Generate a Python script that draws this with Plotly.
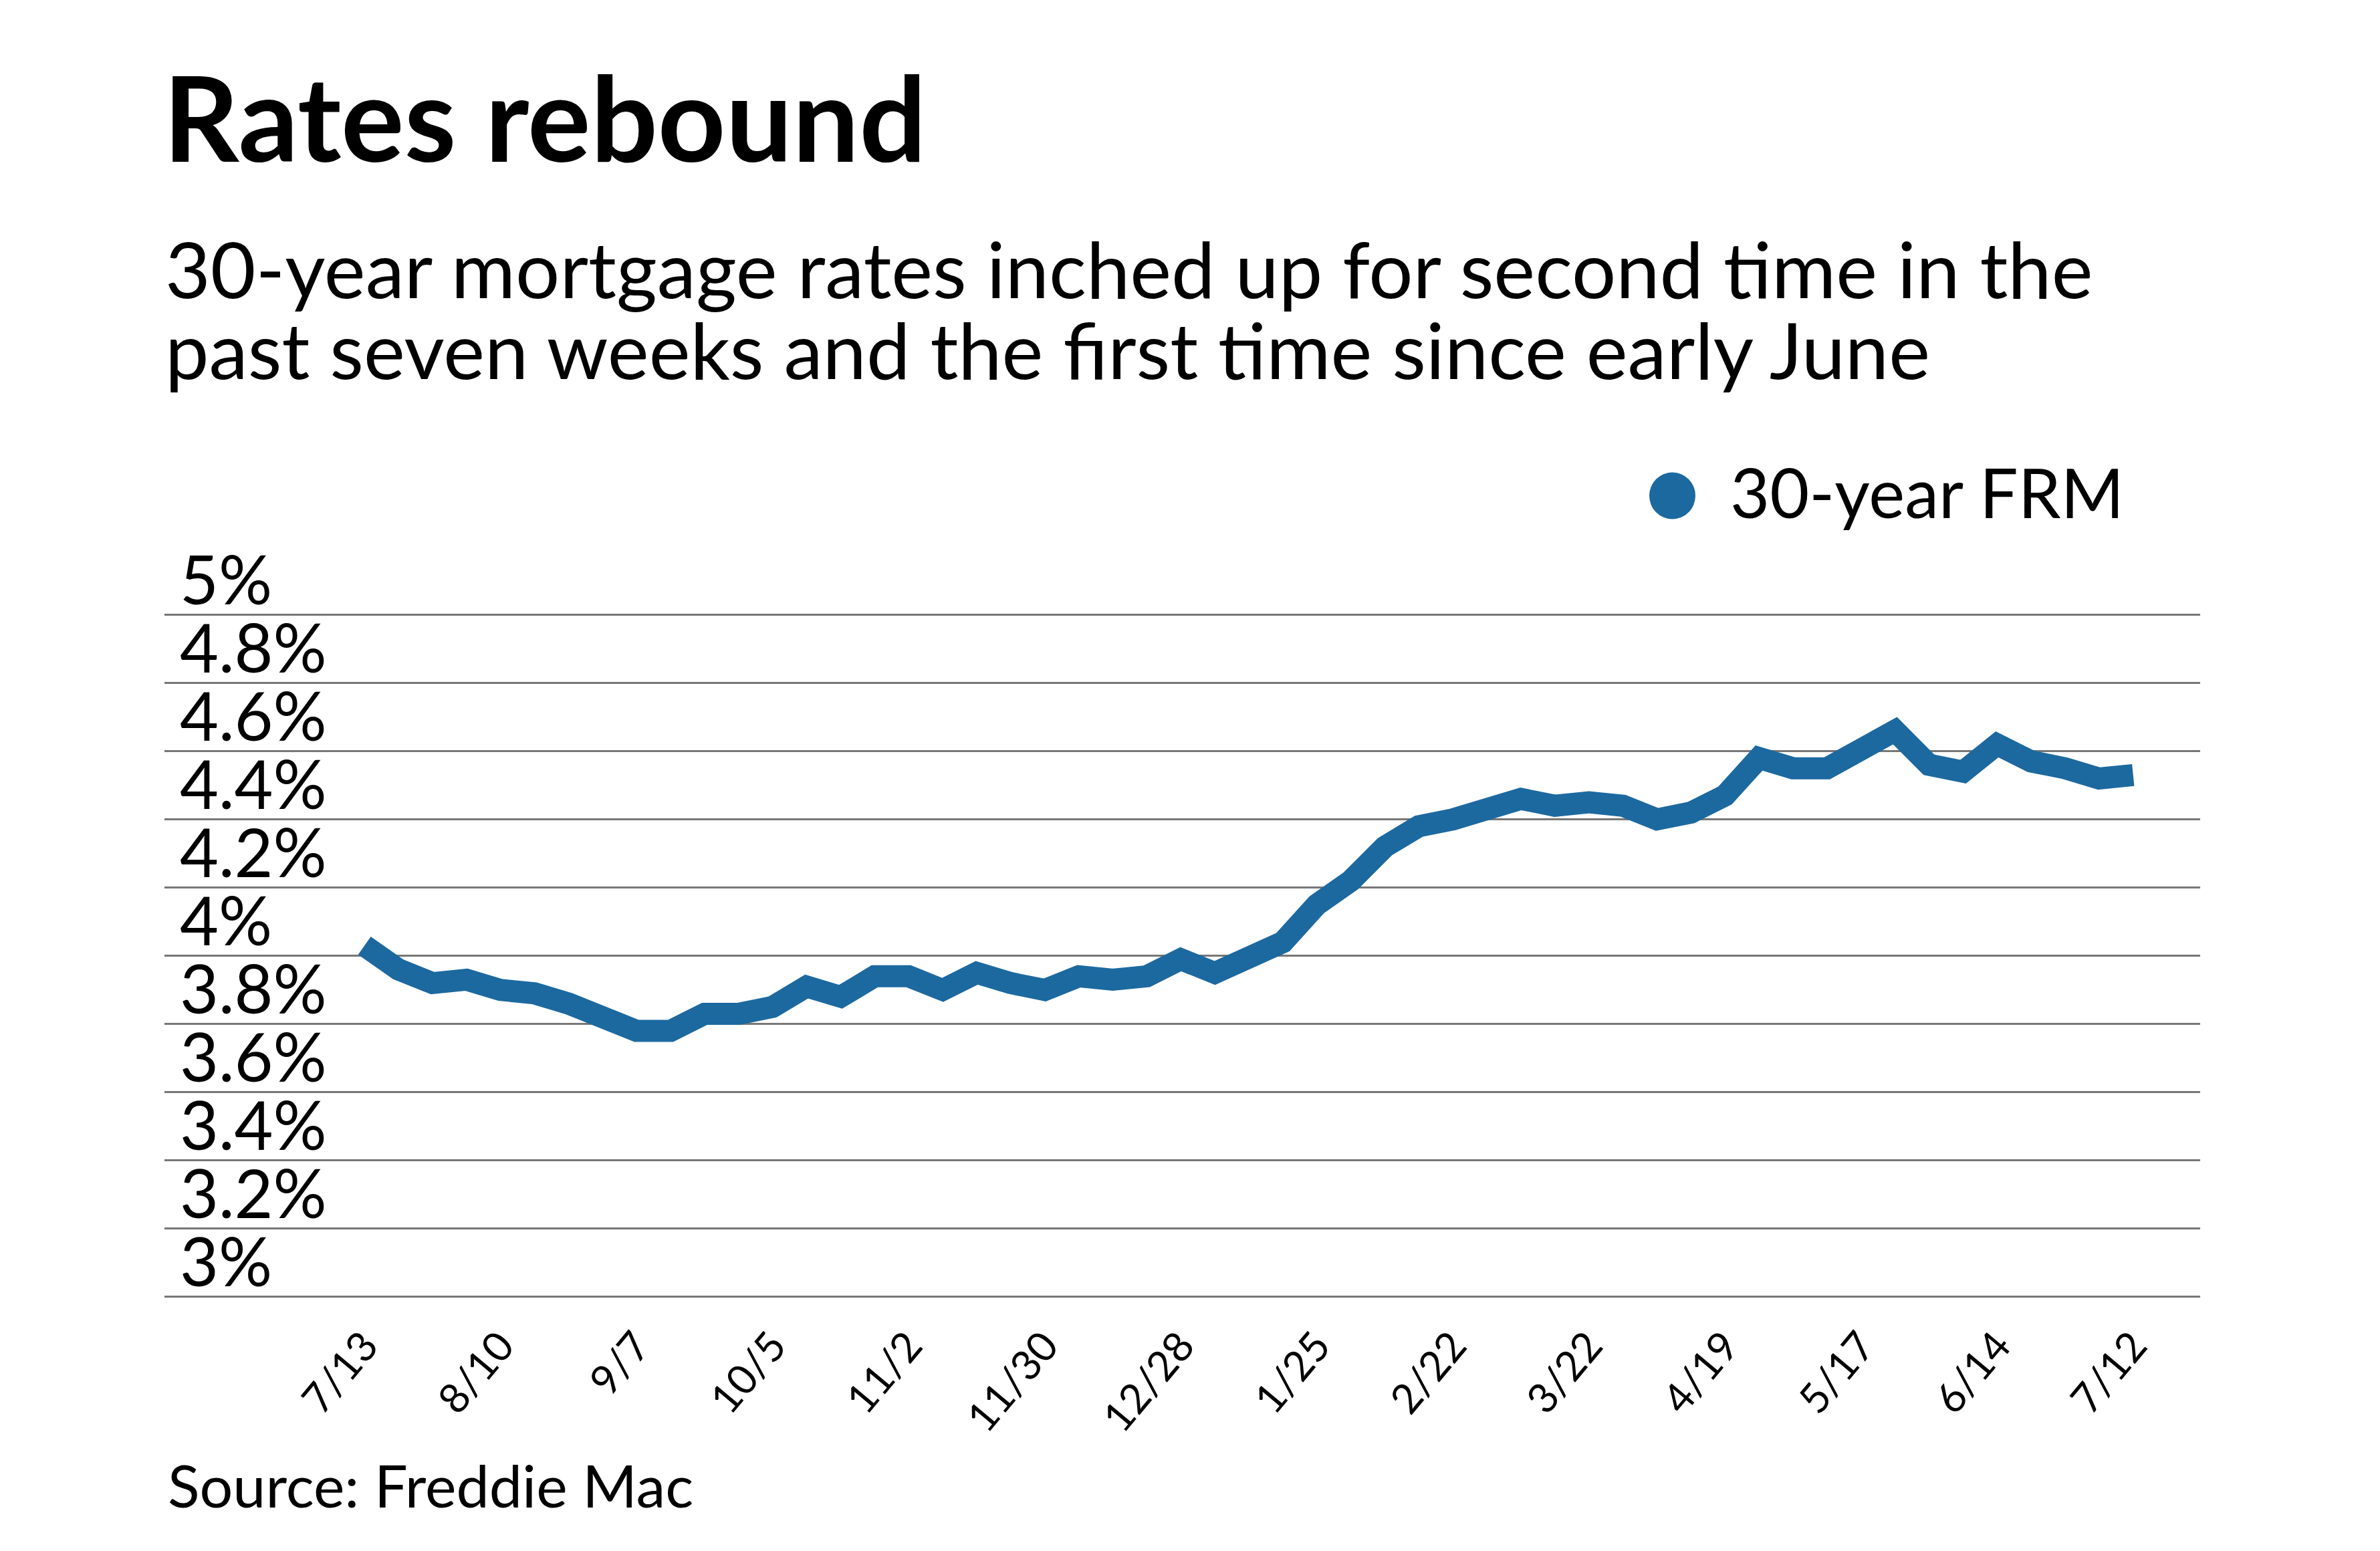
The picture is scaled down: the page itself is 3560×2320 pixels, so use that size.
import plotly.graph_objects as go

# ---------------- data ----------------
weeks = [
    "2017-07-13", "2017-07-20", "2017-07-27", "2017-08-03", "2017-08-10", "2017-08-17",
    "2017-08-24", "2017-08-31", "2017-09-07", "2017-09-14", "2017-09-21", "2017-09-28",
    "2017-10-05", "2017-10-12", "2017-10-19", "2017-10-26", "2017-11-02", "2017-11-09",
    "2017-11-16", "2017-11-22", "2017-11-30", "2017-12-07", "2017-12-14", "2017-12-21",
    "2017-12-28", "2018-01-04", "2018-01-11", "2018-01-18", "2018-01-25", "2018-02-01",
    "2018-02-08", "2018-02-15", "2018-02-22", "2018-03-01", "2018-03-08", "2018-03-15",
    "2018-03-22", "2018-03-29", "2018-04-05", "2018-04-12", "2018-04-19", "2018-04-26",
    "2018-05-03", "2018-05-10", "2018-05-17", "2018-05-24", "2018-05-31", "2018-06-07",
    "2018-06-14", "2018-06-21", "2018-06-28", "2018-07-05", "2018-07-12",
]
rates_30yr = [
    4.03, 3.96, 3.92, 3.93, 3.90, 3.89, 3.86, 3.82, 3.78, 3.78, 3.83, 3.83,
    3.85, 3.91, 3.88, 3.94, 3.94, 3.90, 3.95, 3.92, 3.90, 3.94, 3.93, 3.94,
    3.99, 3.95, 3.99, 4.04, 4.15, 4.22, 4.32, 4.38, 4.40, 4.43, 4.46, 4.44,
    4.45, 4.44, 4.40, 4.42, 4.47, 4.58, 4.55, 4.55, 4.61, 4.66, 4.56, 4.54,
    4.62, 4.57, 4.55, 4.52, 4.53,
]
x_tick_weeks = [
    "2017-07-13", "2017-08-10", "2017-09-07", "2017-10-05", "2017-11-02", "2017-11-30",
    "2017-12-28", "2018-01-25", "2018-02-22", "2018-03-22", "2018-04-19", "2018-05-17",
    "2018-06-14", "2018-07-12",
]
x_tick_labels = ["7/13", "8/10", "9/7", "10/5", "11/2", "11/30", "12/28",
                 "1/25", "2/22", "3/22", "4/19", "5/17", "6/14", "7/12"]
y_tick_values = [3.0, 3.2, 3.4, 3.6, 3.8, 4.0, 4.2, 4.4, 4.6, 4.8, 5.0]
y_tick_labels = ["3%", "3.2%", "3.4%", "3.6%", "3.8%", "4%", "4.2%", "4.4%", "4.6%", "4.8%", "5%"]

series_name = "30-year FRM"
title_text = "Rates rebound"
subtitle_lines = [
    "30-year mortgage rates inched up for second time in the",
    "past seven weeks and the first time since early June",
]
source_text = "Source: Freddie Mac"

# ---------------- style ----------------
BLUE = "#1c69a0"
GRID = "#777777"
FONT = "Lato"
W, H = 3560, 2320
OFF = 8  # page body margin
# plot area in page pixels
PL, PR = 246, 3291
Y_LO, Y_HI = 2.99, 5.45
PY5, PY3 = 920, 1940
ppu = (PY3 - PY5) / 2.0
PT = PY5 - (Y_HI - 5.0) * ppu
PB = PY3 + (3.0 - Y_LO) * ppu

L = PL - OFF
T = PT - OFF
pw = PR - PL
ph = PB - PT
R = W - L - pw
B = H - T - ph


def px(x):
    return (x - PL) / pw


def py(y):
    return (PB - y) / ph


fig = go.Figure()
fig.add_trace(go.Scatter(
    x=weeks, y=rates_30yr, mode="lines", name=series_name,
    line=dict(color=BLUE, width=33), showlegend=False, hoverinfo="skip",
))

annotations = [
    dict(text="<b>" + title_text + "</b>", x=px(242), y=py(66), xanchor="left", yanchor="top",
         font=dict(family=FONT, size=177, color="#000000")),
    dict(text=subtitle_lines[0], x=px(245), y=py(330), xanchor="left", yanchor="top",
         font=dict(family=FONT, size=117, color="#000000")),
    dict(text=subtitle_lines[1], x=px(245), y=py(451), xanchor="left", yanchor="top",
         font=dict(family=FONT, size=117, color="#000000")),
    dict(text=series_name, x=px(2586), y=py(736), xanchor="left", yanchor="middle",
         font=dict(family=FONT, size=102, color="#000000")),
    dict(text=source_text, x=px(249), y=py(2166), xanchor="left", yanchor="top",
         font=dict(family=FONT, size=88, color="#000000")),
]
for a in annotations:
    a.update(xref="paper", yref="paper", showarrow=False)

shapes = [
    dict(type="circle", xref="paper", yref="paper",
         x0=px(2467), x1=px(2536), y0=py(777), y1=py(707),
         fillcolor=BLUE, line=dict(width=0)),
]

fig.update_layout(
    width=W, height=H,
    margin=dict(l=L, r=R, t=T, b=B, pad=0),
    paper_bgcolor="white", plot_bgcolor="white",
    showlegend=False,
    annotations=annotations, shapes=shapes,
    font=dict(family=FONT, color="#000000"),
    xaxis=dict(
        type="category", range=[-5.88, 53.97], automargin=False,
        tickmode="array", tickvals=x_tick_weeks, ticktext=x_tick_labels,
        tickangle=-50, tickfont=dict(family=FONT, size=62, color="#000000"),
        showgrid=False, zeroline=False, showline=False, ticks="",
        ticklabelstandoff=18,
    ),
    yaxis=dict(
        range=[Y_LO, Y_HI], automargin=False,
        tickmode="array", tickvals=y_tick_values, ticktext=y_tick_labels,
        ticklabelposition="inside top",
        tickfont=dict(family=FONT, size=100, color="#000000"),
        showgrid=True, gridcolor=GRID, gridwidth=3,
        zeroline=False, showline=False, ticks="",
        ticklabelstandoff=20, ticklabelshift=19,
    ),
)

fig.write_html("out.html")
